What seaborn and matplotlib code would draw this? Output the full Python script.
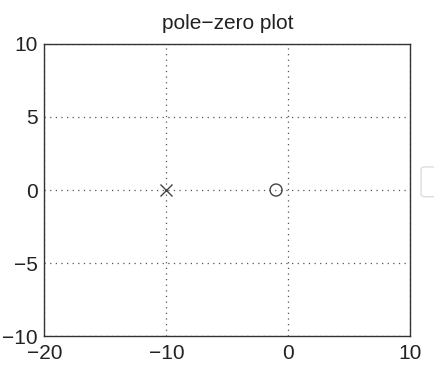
import pandas as pd
import matplotlib.pyplot as plt
import matplotlib.patches as mpatches
import seaborn as sns

# pole / zero locations
pole_re = [-10.0]
pole_im = [0.0]
zero_re = [-1.0]
zero_im = [0.0]

x_ticks = [-20, -10, 0, 10]
y_ticks = [-10, -5, 0, 5, 10]

poles = pd.DataFrame({'re': pole_re, 'im': pole_im})
zeros = pd.DataFrame({'re': zero_re, 'im': zero_im})

sns.set_style('white')
plt.rcParams['font.family'] = ['Liberation Sans', 'DejaVu Sans']

fig = plt.figure(figsize=(4.35, 3.82), dpi=100)
ax = fig.add_axes([0.102, 0.12, 0.841, 0.765])

sns.scatterplot(data=poles, x='re', y='im', marker='x', s=75,
                color='#444444', linewidth=1.0, legend=False, ax=ax, zorder=3)
sns.scatterplot(data=zeros, x='re', y='im', marker='o', s=75,
                facecolor='none', edgecolor='#444444',
                linewidth=1.0, legend=False, ax=ax, zorder=3)

ax.set_xlim(-20, 10)
ax.set_ylim(-10, 10)
ax.set_xticks(x_ticks)
ax.set_yticks(y_ticks)
ax.set_xticklabels([str(t).replace('-', '\u2212') for t in x_ticks])
ax.set_yticklabels([str(t).replace('-', '\u2212') for t in y_ticks])
ax.tick_params(labelsize=15, length=0, colors='#222222')
ax.tick_params(axis='x', pad=6)
ax.tick_params(axis='y', pad=5)
ax.grid(True, linestyle=(0, (1, 3.5)), color='#555555', linewidth=0.9)
for sp in ax.spines.values():
    sp.set_color('#333333')
    sp.set_linewidth(1.0)
ax.set_xlabel('')
ax.set_ylabel('')
ax.set_title('pole\u2212zero plot', fontsize=15, color='#222222', pad=11)

# faint box at the right edge of the screenshot
fig.patches.append(mpatches.FancyBboxPatch(
    (0.968, 0.485), 0.05, 0.078, boxstyle='round,pad=0,rounding_size=0.008',
    transform=fig.transFigure, facecolor='white', edgecolor='#dddddd',
    linewidth=1.0))

fig.savefig('out.png', dpi=100)
